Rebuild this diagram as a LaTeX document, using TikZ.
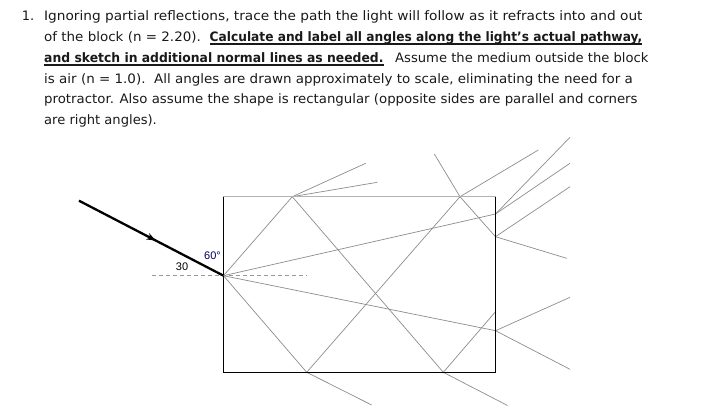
\documentclass[tikz,border=0pt]{standalone}
\usepackage{fontspec}
\usepackage{graphicx}
\setmainfont{DejaVu Sans}
\newfontfamily\labelfont{Liberation Sans}
\usetikzlibrary{arrows.meta,decorations.markings}
\newcommand\myul[1]{\setbox0\hbox{#1}\rlap{\vrule height -1.8pt depth 3.3pt width \wd0}\box0}
\newcommand\fitline[2]{\resizebox{#1}{\height}{#2}}
\begin{document}
\begin{tikzpicture}[x=1pt,y=-1pt,
  ray/.style={draw=black!45, line width=0.7pt},
  edgeline/.style={draw=black, line width=1.1pt},
  topline/.style={draw=black!30, line width=1.3pt},
  normalline/.style={draw=black!40, line width=1.1pt, dash pattern=on 4pt off 3pt},
  incident/.style={draw=black, line width=2.3pt, postaction={decorate},
    decoration={markings, mark=at position 0.53 with {\arrow{Stealth[length=9pt,width=7pt]}}}},
  txt/.style={anchor=base west, inner sep=0pt, font=\fontsize{13}{15}\selectfont, text=black!90},
  lbl/.style={inner sep=0pt, font=\labelfont\fontsize{11}{13}\selectfont}]
\useasboundingbox (0,0) rectangle (704,406);

% ---- text ----
\node[txt] (num) at (21.7,20.7) {1.};
\node[txt] (t1) at (44,20.7) {\fitline{598.3pt}{Ignoring partial reflections, trace the path the light will follow as it refracts into and out}};
\node[txt] (t2a) at (44,41.5) {\fitline{156.7pt}{of the block (n = 2.20).}};
\node[txt] (t2b) at (209.5,41.5) {\myul{\fitline{432.5pt}{\bfseries Calculate and label all angles along the light’s actual pathway,}}};
\node[txt] (t3a) at (44,62.5) {\myul{\fitline{339.3pt}{\bfseries and sketch in additional normal lines as needed.}}};
\node[txt] (t3b) at (395,62.5) {\fitline{253.3pt}{Assume the medium outside the block}};
\node[txt] (t4) at (44,83.5) {\fitline{588.7pt}{is air (n = 1.0).\ \ All angles are drawn approximately to scale, eliminating the need for a}};
\node[txt] (t5) at (44,104) {\fitline{593.3pt}{protractor. Also assume the shape is rectangular (opposite sides are parallel and corners}};
\node[txt] (t6) at (44,124.5) {\fitline{112.7pt}{are right angles).}};

% ---- points ----
\coordinate (TL) at (223.3,196.7);
\coordinate (TR) at (495.5,196.7);
\coordinate (BR) at (495.5,372.3);
\coordinate (BL) at (223.3,372.3);
\coordinate (E) at (223.5,275.7);
\coordinate (S) at (79,200.7);
\coordinate (N1) at (152,275.7);
\coordinate (N2) at (306.7,275.7);
\coordinate (T1) at (292.3,196.7);
\coordinate (T2) at (460,196.7);
\coordinate (B1) at (306.7,372.3);
\coordinate (B2) at (443.3,372.3);
\coordinate (R1) at (495.5,214);
\coordinate (R2) at (495.5,236.7);
\coordinate (R3) at (495.5,330.7);
\coordinate (R4) at (495.5,311.7);
\coordinate (O1) at (365.7,163.3);
\coordinate (O2) at (377.3,182.3);
\coordinate (O3) at (538.3,150);
\coordinate (O4) at (434.3,154);
\coordinate (O5) at (570,137.3);
\coordinate (O6) at (570,163.3);
\coordinate (O7) at (570,186.7);
\coordinate (O8) at (566.7,258.3);
\coordinate (O9) at (570,297.3);
\coordinate (O10) at (570,369.3);
\coordinate (O11) at (371.7,405);
\coordinate (O12) at (507.5,405.5);

% ---- gray rays ----
\draw[ray] (E) -- (T1);
\draw[ray] (E) -- (B1);
\draw[ray] (E) -- (R1);
\draw[ray] (E) -- (R3);
\draw[ray] (T1) -- (B2);
\draw[ray] (T1) -- (O1);
\draw[ray] (T1) -- (O2);
\draw[ray] (B1) -- (T2);
\draw[ray] (T2) -- (O3);
\draw[ray] (O4) -- (T2) -- (R2);
\draw[ray] (R1) -- (O5);
\draw[ray] (R1) -- (O6);
\draw[ray] (R2) -- (O7);
\draw[ray] (R2) -- (O8);
\draw[ray] (B2) -- (R4);
\draw[ray] (R3) -- (O9);
\draw[ray] (R3) -- (O10);
\draw[ray] (B1) -- (O11);
\draw[ray] (B2) -- (O12);

% ---- block ----
\draw[topline] (TL) -- (TR);
\draw[edgeline] (TL) -- (BL) -- (BR) -- (TR);

% ---- normal and incident ray ----
\draw[normalline] (N1) -- (N2);
\draw[incident] (S) -- (E);

% ---- labels ----
\node[lbl] (l30) at (182,267) {30};
\node[lbl, text=blue!35!black] (l60) at (212.5,255.5) {60°};
\end{tikzpicture}
\end{document}
